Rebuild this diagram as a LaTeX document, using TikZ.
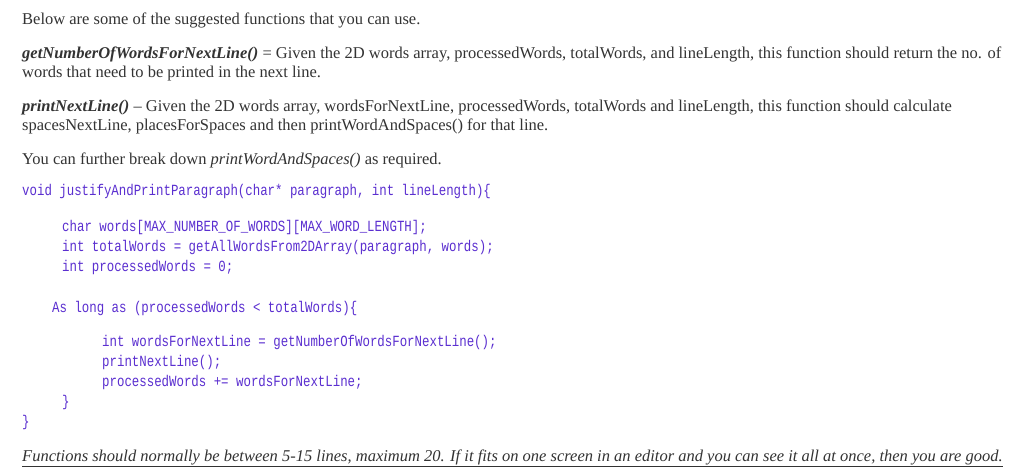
\documentclass[tikz,border=0pt]{standalone}
\usepackage{fontspec}
\setmainfont{Liberation Serif}
\setmonofont{Liberation Mono}
\begin{document}
\begin{tikzpicture}[x=1pt,y=-1pt,
  txt/.style={anchor=base west,inner sep=0pt,text=black!80,font=\fontsize{16.5}{18}\selectfont},
  code/.style={anchor=base west,inner sep=0pt,text=codec,yscale=1.25,font=\ttfamily\fontsize{12.4}{15}\selectfont}]
\definecolor{codec}{HTML}{5B2FD0}
\useasboundingbox[fill=white] (0,0) rectangle (1024,471);
\node[txt] (l1) at (22,24) {Below are some of the suggested functions that you can use.};
\node[txt] (l2) at (22,58) {\textbf{\textit{getNumberOfWordsForNextLine()}} = Given the 2D words array, processedWords, totalWords, and lineLength, this function should return the no. of};
\node[txt] (l3) at (22,77) {words that need to be printed in the next line.};
\node[txt] (l4) at (22,111) {\textbf{\textit{printNextLine()}} -- Given the 2D words array, wordsForNextLine, processedWords, totalWords and lineLength, this function should calculate};
\node[txt] (l5) at (22,130) {spacesNextLine, placesForSpaces and then printWordAndSpaces() for that line.};
\node[txt] (l6) at (22,164) {You can further break down \textit{printWordAndSpaces()} as required.};
\node[code] (c1) at (22,195) {void justifyAndPrintParagraph(char* paragraph, int lineLength)\{};
\node[code] (c2) at (62,231) {char words[MAX\_NUMBER\_OF\_WORDS][MAX\_WORD\_LENGTH];};
\node[code] (c3) at (62,251) {int totalWords = getAllWordsFrom2DArray(paragraph, words);};
\node[code] (c4) at (62,271) {int processedWords = 0;};
\node[code] (c5) at (52,312) {As long as (processedWords < totalWords)\{};
\node[code] (c6) at (102,346) {int wordsForNextLine = getNumberOfWordsForNextLine();};
\node[code] (c7) at (102,366) {printNextLine();};
\node[code] (c8) at (102,386) {processedWords += wordsForNextLine;};
\node[code] (c9) at (62,406) {\}};
\node[code] (c10) at (22,426) {\}};
\node[txt] (l7) at (22,461) {\underline{\textit{Functions should normally be between 5-15 lines, maximum 20. If it fits on one screen in an editor and you can see it all at once, then you are good.}}};
\end{tikzpicture}
\end{document}
